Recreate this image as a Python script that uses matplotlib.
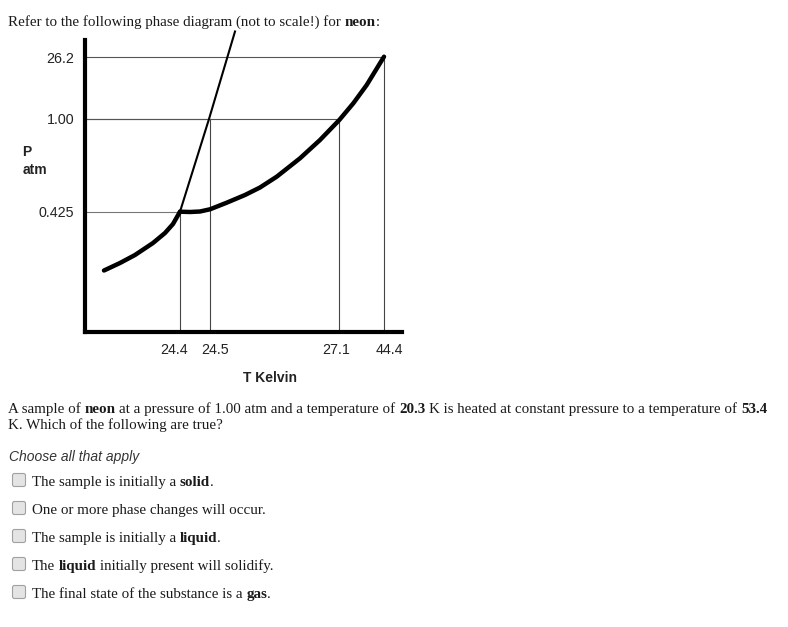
import matplotlib
matplotlib.use('Agg')
import matplotlib.pyplot as plt
import matplotlib.transforms as mtransforms
from matplotlib.patches import FancyBboxPatch

W, H = 788, 627

# Schematic diagram coordinates (the original is "not to scale")
t_labels = ['24.4', '24.5', '27.1', '44.4']
t_pos = [94.7, 124.7, 254.0, 299.2]
p_labels = ['0.425', '1.00', '26.2']
p_pos = [120.0, 212.7, 274.4]

# (T index, P index) of the marked points: triple, melting, boiling, critical
marked = [(0, 0), (1, 1), (2, 1), (3, 2)]

sub_t = [18.7, 34.7, 49.7, 67.7, 79.7, 87.7, 94.7]
sub_p = [61.2, 68.7, 76.7, 88.7, 98.7, 107.7, 120.0]

vap_t = [94.7, 104.7, 114.7, 124.7, 141.4, 159.7, 174.7, 191.4, 214.7,
         234.7, 254.0, 268.0, 281.4, 298.7]
vap_p = [120.0, 119.7, 120.2, 122.4, 129.0, 136.7, 144.2, 155.0, 173.4,
         191.7, 211.7, 228.4, 246.7, 275.0]

fus_t = [94.7, 123.7, 149.7]
fus_p = [120.0, 212.7, 300.2]

intro = [('Refer to the following phase diagram (not to scale!) for ', False),
         ('neon', True), (':', False)]
question_1 = [('A sample of ', False), ('neon', True),
              (' at a pressure of 1.00 atm and a temperature of ', False),
              ('20.3', True),
              (' K is heated at constant pressure to a temperature of ', False),
              ('53.4', True)]
question_2 = [('K. Which of the following are true?', False)]
options = [
    [('The sample is initially a ', False), ('solid', True), ('.', False)],
    [('One or more phase changes will occur.', False)],
    [('The sample is initially a ', False), ('liquid', True), ('.', False)],
    [('The ', False), ('liquid', True),
     (' initially present will solidify.', False)],
    [('The final state of the substance is a ', False), ('gas', True),
     ('.', False)],
]

fig = plt.figure(figsize=(W / 100, H / 100), dpi=100)
bg = fig.add_axes([0, 0, 1, 1])
bg.set_xlim(0, W)
bg.set_ylim(H, 0)
bg.axis('off')
renderer = fig.canvas.get_renderer()

serif = dict(family='Liberation Serif', size=10.8, color='#1a1a1a',
             va='baseline')


def text_w(s, **kw):
    t = bg.text(0, 0, s, **kw)
    w = t.get_window_extent(renderer).width
    t.remove()
    return w


def advance(s, **kw):
    # width of s including its spaces, measured between two bars
    return text_w('|' + s + '|', **kw) - text_w('||', **kw)


def rich_line(x, y, parts, **kw):
    for s, bold in parts:
        weight = 'bold' if bold else 'normal'
        lead = s[:len(s) - len(s.lstrip(' '))]
        x0 = x + (advance(lead, fontweight=weight, **kw) if lead else 0)
        bg.text(x0, y, s.strip(' '), fontweight=weight, **kw)
        x += advance(s, fontweight=weight, **kw)


rich_line(8, 26, intro, **serif)
rich_line(8, 413, question_1, **serif)
rich_line(8, 429, question_2, **serif)
bg.text(9, 461.5, 'Choose all that apply', family='Liberation Sans',
        style='italic', size=10, color='#333333', va='baseline')
for i, opt in enumerate(options):
    yb = 486 + 28 * i
    box = FancyBboxPatch((14, yb - 11), 10, 10,
                         boxstyle='round,pad=1.5,rounding_size=2',
                         facecolor='#e4e4e4', edgecolor='#a0a0a0', lw=0.8)
    bg.add_patch(box)
    rich_line(32, yb, opt, **serif)

# phase diagram
left, right, top, bottom = 85.3, 402.0, 40.0, 331.7
ax = fig.add_axes([left / W, 1 - bottom / H, (right - left) / W,
                   (bottom - top) / H])
ax.patch.set_alpha(0)
ax.set_xlim(0, right - left)
ax.set_ylim(0, bottom - top)
for s in ['top', 'right']:
    ax.spines[s].set_visible(False)
for s in ['left', 'bottom']:
    ax.spines[s].set_linewidth(3)
    ax.spines[s].set_color('black')

for ti, pi in marked:
    ax.plot([t_pos[ti], t_pos[ti]], [0, p_pos[pi]], color='#444444', lw=0.8)
    ax.plot([0, t_pos[ti]], [p_pos[pi], p_pos[pi]],
            color='#777777' if pi == 0 else '#555555', lw=0.8)

ax.plot(sub_t, sub_p, color='black', lw=3.2, solid_capstyle='round')
ax.plot(vap_t, vap_p, color='black', lw=3.2, solid_capstyle='round')
ax.plot(fus_t, fus_p, color='black', lw=1.5, clip_on=False)

tick_font = dict(family='Liberation Sans', size=10.3, color='#222222')
ax.set_xticks(t_pos)
ax.set_xticklabels(t_labels, **tick_font)
ax.set_yticks(p_pos)
ax.set_yticklabels(p_labels, **tick_font)
ax.tick_params(axis='x', length=0, pad=8)
ax.tick_params(axis='y', length=0, pad=8)

# labels in the original sit a little off their guide lines
shifts = [-6, 5, -3, 5]
for lab, dx in zip(ax.get_xticklabels(), shifts):
    lab.set_transform(lab.get_transform() + mtransforms.ScaledTranslation(
        dx / 100, 0, fig.dpi_scale_trans))

bg.text(27, 152, 'P', family='Liberation Sans', weight='bold', size=10,
        ha='center', va='center', color='#222222')
bg.text(35, 170, 'atm', family='Liberation Sans', weight='bold', size=10,
        ha='center', va='center', color='#222222')
bg.text(270, 378, 'T Kelvin', family='Liberation Sans', weight='bold',
        size=10, ha='center', va='center', color='#222222')

fig.savefig('out.png', dpi=100)
